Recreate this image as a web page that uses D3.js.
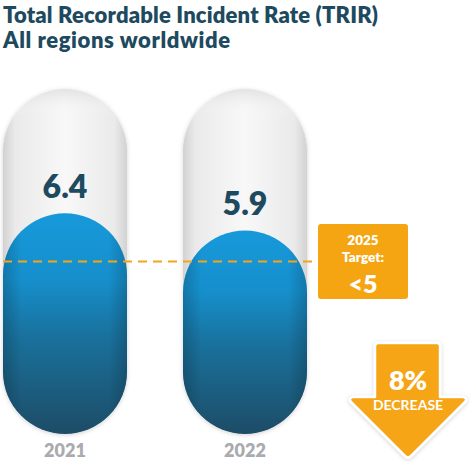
<!DOCTYPE html>
<html><head><meta charset="utf-8">
<script src="https://cdn.jsdelivr.net/npm/d3@7"></script>
<style>html,body{margin:0;padding:0;background:#fff;}svg{display:block;font-family:Lato,"Open Sans",sans-serif;}</style>
</head><body>
<script>
const titleLines = ["Total Recordable Incident Rate (TRIR)", "All regions worldwide"];
const titleWidths = [375, 227];
const years = ["2021", "2022"];
const values = [6.4, 5.9];
const valueLabels = ["6.4", "5.9"];
const target = 5;
const targetLabels = ["2025", "Target:", "<5"];
const changeLabels = ["8%", "DECREASE"];

const W = 474, H = 474;
const svg = d3.select("body").append("svg").attr("width", W).attr("height", H);
const defs = svg.append("defs");

const tg = defs.append("linearGradient").attr("id","rule").attr("x1","0").attr("x2","1");
tg.append("stop").attr("offset","0").attr("stop-color","#1d4257");
tg.append("stop").attr("offset","0.5").attr("stop-color","#1b6488");
tg.append("stop").attr("offset","1").attr("stop-color","#1a9ddb");

const pg = defs.append("linearGradient").attr("id","pill").attr("x1","0").attr("x2","1");
[[0,"#d2d2d2"],[0.1,"#eaeaea"],[0.5,"#f8f8f8"],[0.9,"#eaeaea"],[1,"#d2d2d2"]].forEach(s=>pg.append("stop").attr("offset",s[0]).attr("stop-color",s[1]));
const pgv = defs.append("linearGradient").attr("id","pillv").attr("x1","0").attr("x2","0").attr("y1","0").attr("y2","1");
pgv.append("stop").attr("offset","0").attr("stop-color","#cfcfcf").attr("stop-opacity",0.5);
pgv.append("stop").attr("offset","0.08").attr("stop-color","#ffffff").attr("stop-opacity",0);

const bg = defs.append("linearGradient").attr("id","blue").attr("x1","0").attr("x2","0").attr("y1","0").attr("y2","1");
[[0,"#1799da"],[0.3,"#168fcc"],[0.55,"#19729e"],[1,"#1d4c66"]].forEach(s=>bg.append("stop").attr("offset",s[0]).attr("stop-color",s[1]));
const bh = defs.append("linearGradient").attr("id","blueh").attr("x1","0").attr("x2","1");
[[0,"#000",0.18],[0.15,"#000",0],[0.85,"#000",0],[1,"#000",0.18]].forEach(s=>bh.append("stop").attr("offset",s[0]).attr("stop-color",s[1]).attr("stop-opacity",s[2]));

const sh = defs.append("filter").attr("id","sh").attr("x","-20%").attr("y","-20%").attr("width","140%").attr("height","140%");
sh.append("feDropShadow").attr("dx",0).attr("dy",1).attr("stdDeviation",2).attr("flood-color","#000").attr("flood-opacity",0.18);

// Title
svg.selectAll("text.title").data(titleLines).join("text").attr("class","title")
  .attr("x",3).attr("y",(d,i)=>23+i*25)
  .attr("font-size",22).attr("font-weight",800).attr("fill","#1d4a5e")
  .attr("textLength",(d,i)=>titleWidths[i]).attr("lengthAdjust","spacing").text(d=>d);
svg.append("line").attr("x1",4).attr("x2",413).attr("y1",62).attr("y2",62)
  .attr("stroke","url(#rule)").attr("stroke-width",4).attr("stroke-linecap","round");

// Scales
const x = d3.scaleBand().domain(years).range([3, 307]).paddingInner(0.311).paddingOuter(0);
const y = d3.scaleLinear().domain([0, 10]).range([434, 89]);
const bw = x.bandwidth(), r = bw/2;

const g = svg.append("g");
g.selectAll("rect.pill").data(years).join("rect").attr("class","pill")
  .attr("x",d=>x(d)).attr("y",y(10)).attr("width",bw).attr("height",y(0)-y(10))
  .attr("rx",r).attr("ry",r).attr("fill","url(#pill)").attr("filter","url(#sh)");
g.selectAll("rect.pillv").data(years).join("rect").attr("class","pillv")
  .attr("x",d=>x(d)).attr("y",y(10)).attr("width",bw).attr("height",y(0)-y(10))
  .attr("rx",r).attr("ry",r).attr("fill","url(#pillv)");

const data = years.map((yr,i)=>({yr, v:values[i], lab:valueLabels[i]}));
g.selectAll("rect.bar").data(data).join("rect").attr("class","bar")
  .attr("x",d=>x(d.yr)).attr("y",d=>y(d.v)).attr("width",bw).attr("height",d=>y(0)-y(d.v))
  .attr("rx",r).attr("ry",r).attr("fill","url(#blue)");
g.selectAll("rect.barh").data(data).join("rect").attr("class","barh")
  .attr("x",d=>x(d.yr)).attr("y",d=>y(d.v)).attr("width",bw).attr("height",d=>y(0)-y(d.v))
  .attr("rx",r).attr("ry",r).attr("fill","url(#blueh)");

g.selectAll("text.val").data(data).join("text").attr("class","val")
  .attr("x",d=>x(d.yr)+bw/2).attr("y",d=>y(d.v)-15)
  .attr("text-anchor","middle").attr("font-size",32).attr("font-weight",800).attr("fill","#1d4a5e").text(d=>d.lab);

g.selectAll("text.yr").data(years).join("text").attr("class","yr")
  .attr("x",d=>x(d)+bw/2).attr("y",457)
  .attr("text-anchor","middle").attr("font-size",18).attr("font-weight",800).attr("fill","#a9abae").text(d=>d);

svg.append("line").attr("x1",3).attr("x2",318).attr("y1",y(target)).attr("y2",y(target))
  .attr("stroke","#f2a51d").attr("stroke-width",2).attr("stroke-dasharray","9,6");

svg.append("rect").attr("x",318).attr("y",224).attr("width",90).attr("height",75).attr("rx",3)
  .attr("fill","#f5a512");
const tb = svg.append("g").attr("fill","#fff").attr("text-anchor","middle").attr("font-weight",800);
tb.append("text").attr("x",363).attr("y",245).attr("font-size",13.5).text(targetLabels[0]);
tb.append("text").attr("x",363).attr("y",261.5).attr("font-size",13.5).text(targetLabels[1]);
tb.append("text").attr("x",363).attr("y",293).attr("font-size",25).text(targetLabels[2]);

const ap = d3.path();
ap.moveTo(378,343); ap.lineTo(437,343); ap.quadraticCurveTo(440,343,440,346);
ap.lineTo(440,397); ap.lineTo(463,397); ap.quadraticCurveTo(468,398,465,402);
ap.lineTo(411,456); ap.quadraticCurveTo(408,459,405,456);
ap.lineTo(351,402); ap.quadraticCurveTo(348,398,353,397);
ap.lineTo(375,397); ap.lineTo(375,346); ap.quadraticCurveTo(375,343,378,343); ap.closePath();
svg.append("path").attr("d",ap.toString()).attr("fill","#f5a512").attr("stroke","#fff").attr("stroke-width",2.5)
  .attr("stroke-linejoin","round").attr("filter","url(#sh)");
const at = svg.append("g").attr("fill","#fff").attr("text-anchor","middle");
at.append("text").attr("x",408).attr("y",390).attr("font-size",27).attr("font-weight",800).text(changeLabels[0]);
at.append("text").attr("x",408).attr("y",410).attr("font-size",14).attr("font-weight",700).text(changeLabels[1]);
</script>
</body></html>
